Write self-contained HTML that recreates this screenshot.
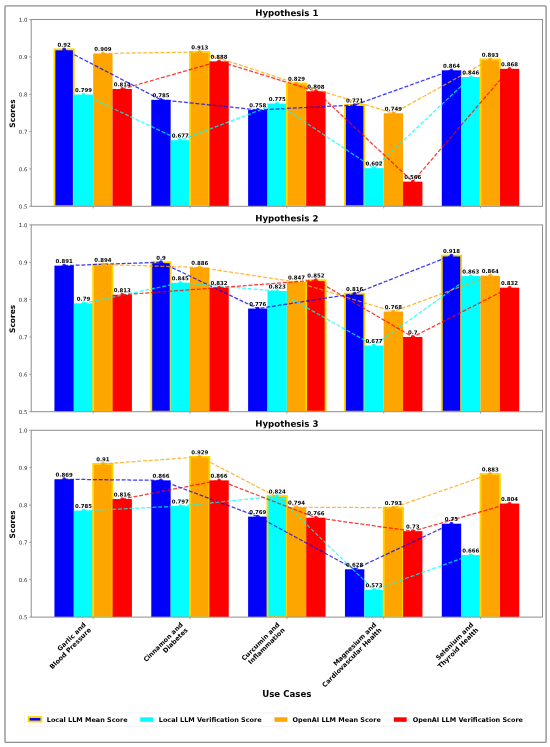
<!DOCTYPE html>
<html lang="en"><head><meta charset="utf-8"><title>Hypothesis scores</title>
<style>html,body{margin:0;padding:0;background:#fff}body{width:550px;height:747px;overflow:hidden}svg{display:block;filter:blur(0.4px)}</style>
</head><body>
<svg width="550" height="747" viewBox="0 0 550 747" font-family="'DejaVu Sans', 'Liberation Sans', sans-serif">
<rect x="0" y="0" width="550" height="747" fill="#ffffff"/>
<rect x="5.0" y="5.8" width="541.1" height="736.6" rx="1" fill="none" stroke="#8e8e8e" stroke-width="1.35"/>
<clipPath id="c0"><rect x="31.2" y="19.5" width="511.3" height="186.8"/></clipPath>
<g clip-path="url(#c0)">
<rect x="54.44" y="49.39" width="19.37" height="156.91" fill="#0000ff" stroke="#ffd700" stroke-width="1.85"/>
<rect x="151.28" y="99.82" width="19.37" height="106.48" fill="#0000ff"/>
<rect x="248.12" y="109.91" width="19.37" height="96.39" fill="#0000ff"/>
<rect x="344.95" y="105.05" width="19.37" height="101.25" fill="#0000ff" stroke="#ffd700" stroke-width="1.85"/>
<rect x="441.79" y="70.31" width="19.37" height="135.99" fill="#0000ff"/>
<rect x="73.81" y="94.59" width="19.37" height="111.71" fill="#00ffff"/>
<rect x="170.65" y="140.17" width="19.37" height="66.13" fill="#00ffff"/>
<rect x="267.48" y="103.56" width="19.37" height="102.74" fill="#00ffff"/>
<rect x="364.32" y="168.19" width="19.37" height="38.11" fill="#00ffff"/>
<rect x="461.16" y="77.03" width="19.37" height="129.27" fill="#00ffff"/>
<rect x="93.18" y="53.5" width="19.37" height="152.8" fill="#ffa500"/>
<rect x="190.01" y="52" width="19.37" height="154.3" fill="#ffa500" stroke="#ffd700" stroke-width="1.85"/>
<rect x="286.85" y="83.39" width="19.37" height="122.91" fill="#ffa500" stroke="#ffd700" stroke-width="1.85"/>
<rect x="383.69" y="113.27" width="19.37" height="93.03" fill="#ffa500"/>
<rect x="480.52" y="59.48" width="19.37" height="146.82" fill="#ffa500" stroke="#ffd700" stroke-width="1.85"/>
<rect x="112.54" y="88.99" width="19.37" height="117.31" fill="#ff0000"/>
<rect x="209.38" y="61.34" width="19.37" height="144.96" fill="#ff0000"/>
<rect x="306.22" y="91.23" width="19.37" height="115.07" fill="#ff0000"/>
<rect x="403.05" y="181.64" width="19.37" height="24.66" fill="#ff0000"/>
<rect x="499.89" y="68.82" width="19.37" height="137.48" fill="#ff0000"/>
<polyline points="64.12,49.39 160.96,99.82 257.8,109.91 354.64,105.05 451.47,70.31" fill="none" stroke="#0000ff" stroke-width="1.25" stroke-dasharray="4 1.75" opacity="0.78"/>
<circle cx="64.12" cy="49.39" r="1.9" fill="#0000ff" opacity="0.85"/>
<circle cx="160.96" cy="99.82" r="1.9" fill="#0000ff" opacity="0.85"/>
<circle cx="257.8" cy="109.91" r="1.9" fill="#0000ff" opacity="0.85"/>
<circle cx="354.64" cy="105.05" r="1.9" fill="#0000ff" opacity="0.85"/>
<circle cx="451.47" cy="70.31" r="1.9" fill="#0000ff" opacity="0.85"/>
<polyline points="83.49,94.59 180.33,140.17 277.17,103.56 374,168.19 470.84,77.03" fill="none" stroke="#00ffff" stroke-width="1.25" stroke-dasharray="4 1.75" opacity="0.78"/>
<circle cx="83.49" cy="94.59" r="1.9" fill="#00ffff" opacity="0.85"/>
<circle cx="180.33" cy="140.17" r="1.9" fill="#00ffff" opacity="0.85"/>
<circle cx="277.17" cy="103.56" r="1.9" fill="#00ffff" opacity="0.85"/>
<circle cx="374" cy="168.19" r="1.9" fill="#00ffff" opacity="0.85"/>
<circle cx="470.84" cy="77.03" r="1.9" fill="#00ffff" opacity="0.85"/>
<polyline points="102.86,53.5 199.7,52 296.53,83.39 393.37,113.27 490.21,59.48" fill="none" stroke="#ffa500" stroke-width="1.25" stroke-dasharray="4 1.75" opacity="0.78"/>
<circle cx="102.86" cy="53.5" r="1.9" fill="#ffa500" opacity="0.85"/>
<circle cx="199.7" cy="52" r="1.9" fill="#ffa500" opacity="0.85"/>
<circle cx="296.53" cy="83.39" r="1.9" fill="#ffa500" opacity="0.85"/>
<circle cx="393.37" cy="113.27" r="1.9" fill="#ffa500" opacity="0.85"/>
<circle cx="490.21" cy="59.48" r="1.9" fill="#ffa500" opacity="0.85"/>
<polyline points="122.23,88.99 219.06,61.34 315.9,91.23 412.74,181.64 509.58,68.82" fill="none" stroke="#ff0000" stroke-width="1.25" stroke-dasharray="4 1.75" opacity="0.78"/>
<circle cx="122.23" cy="88.99" r="1.9" fill="#ff0000" opacity="0.85"/>
<circle cx="219.06" cy="61.34" r="1.9" fill="#ff0000" opacity="0.85"/>
<circle cx="315.9" cy="91.23" r="1.9" fill="#ff0000" opacity="0.85"/>
<circle cx="412.74" cy="181.64" r="1.9" fill="#ff0000" opacity="0.85"/>
<circle cx="509.58" cy="68.82" r="1.9" fill="#ff0000" opacity="0.85"/>
</g><g>
<rect x="31.2" y="19.5" width="511.3" height="186.8" fill="none" stroke="#929292" stroke-width="1.05"/>
<line x1="29.2" y1="206.3" x2="31.2" y2="206.3" stroke="#929292" stroke-width="0.8"/>
<text transform="translate(27.4,208.55) rotate(0.3)" font-size="5.4" text-anchor="end" fill="#262626">0.5</text>
<line x1="29.2" y1="168.94" x2="31.2" y2="168.94" stroke="#929292" stroke-width="0.8"/>
<text transform="translate(27.4,171.19) rotate(0.3)" font-size="5.4" text-anchor="end" fill="#262626">0.6</text>
<line x1="29.2" y1="131.58" x2="31.2" y2="131.58" stroke="#929292" stroke-width="0.8"/>
<text transform="translate(27.4,133.83) rotate(0.3)" font-size="5.4" text-anchor="end" fill="#262626">0.7</text>
<line x1="29.2" y1="94.22" x2="31.2" y2="94.22" stroke="#929292" stroke-width="0.8"/>
<text transform="translate(27.4,96.47) rotate(0.3)" font-size="5.4" text-anchor="end" fill="#262626">0.8</text>
<line x1="29.2" y1="56.86" x2="31.2" y2="56.86" stroke="#929292" stroke-width="0.8"/>
<text transform="translate(27.4,59.11) rotate(0.3)" font-size="5.4" text-anchor="end" fill="#262626">0.9</text>
<line x1="29.2" y1="19.5" x2="31.2" y2="19.5" stroke="#929292" stroke-width="0.8"/>
<text transform="translate(27.4,21.75) rotate(0.3)" font-size="5.4" text-anchor="end" fill="#262626">1.0</text>
<line x1="93.18" y1="206.3" x2="93.18" y2="208.3" stroke="#929292" stroke-width="0.8"/>
<line x1="190.01" y1="206.3" x2="190.01" y2="208.3" stroke="#929292" stroke-width="0.8"/>
<line x1="286.85" y1="206.3" x2="286.85" y2="208.3" stroke="#929292" stroke-width="0.8"/>
<line x1="383.69" y1="206.3" x2="383.69" y2="208.3" stroke="#929292" stroke-width="0.8"/>
<line x1="480.52" y1="206.3" x2="480.52" y2="208.3" stroke="#929292" stroke-width="0.8"/>
<text transform="translate(64.12,46.79) rotate(0.3)" font-size="5.4" font-weight="bold" text-anchor="middle" fill="#000">0.92</text>
<text transform="translate(83.49,91.99) rotate(0.3)" font-size="5.4" font-weight="bold" text-anchor="middle" fill="#000">0.799</text>
<text transform="translate(102.86,50.9) rotate(0.3)" font-size="5.4" font-weight="bold" text-anchor="middle" fill="#000">0.909</text>
<text transform="translate(122.23,86.39) rotate(0.3)" font-size="5.4" font-weight="bold" text-anchor="middle" fill="#000">0.814</text>
<text transform="translate(160.96,97.22) rotate(0.3)" font-size="5.4" font-weight="bold" text-anchor="middle" fill="#000">0.785</text>
<text transform="translate(180.33,137.57) rotate(0.3)" font-size="5.4" font-weight="bold" text-anchor="middle" fill="#000">0.677</text>
<text transform="translate(199.7,49.4) rotate(0.3)" font-size="5.4" font-weight="bold" text-anchor="middle" fill="#000">0.913</text>
<text transform="translate(219.06,58.74) rotate(0.3)" font-size="5.4" font-weight="bold" text-anchor="middle" fill="#000">0.888</text>
<text transform="translate(257.8,107.31) rotate(0.3)" font-size="5.4" font-weight="bold" text-anchor="middle" fill="#000">0.758</text>
<text transform="translate(277.17,100.96) rotate(0.3)" font-size="5.4" font-weight="bold" text-anchor="middle" fill="#000">0.775</text>
<text transform="translate(296.53,80.79) rotate(0.3)" font-size="5.4" font-weight="bold" text-anchor="middle" fill="#000">0.829</text>
<text transform="translate(315.9,88.63) rotate(0.3)" font-size="5.4" font-weight="bold" text-anchor="middle" fill="#000">0.808</text>
<text transform="translate(354.64,102.45) rotate(0.3)" font-size="5.4" font-weight="bold" text-anchor="middle" fill="#000">0.771</text>
<text transform="translate(374,165.59) rotate(0.3)" font-size="5.4" font-weight="bold" text-anchor="middle" fill="#000">0.602</text>
<text transform="translate(393.37,110.67) rotate(0.3)" font-size="5.4" font-weight="bold" text-anchor="middle" fill="#000">0.749</text>
<text transform="translate(412.74,179.04) rotate(0.3)" font-size="5.4" font-weight="bold" text-anchor="middle" fill="#000">0.566</text>
<text transform="translate(451.47,67.71) rotate(0.3)" font-size="5.4" font-weight="bold" text-anchor="middle" fill="#000">0.864</text>
<text transform="translate(470.84,74.43) rotate(0.3)" font-size="5.4" font-weight="bold" text-anchor="middle" fill="#000">0.846</text>
<text transform="translate(490.21,56.88) rotate(0.3)" font-size="5.4" font-weight="bold" text-anchor="middle" fill="#000">0.893</text>
<text transform="translate(509.58,66.22) rotate(0.3)" font-size="5.4" font-weight="bold" text-anchor="middle" fill="#000">0.868</text>
<text transform="translate(286.85,15.9) rotate(0.2)" font-size="8.62" font-weight="bold" text-anchor="middle" fill="#000">Hypothesis 1</text>
<text transform="translate(15.3,113.5) rotate(-90)" font-size="7.5" font-weight="bold" text-anchor="middle" fill="#000">Scores</text>
</g>
<clipPath id="c1"><rect x="31.2" y="224.9" width="511.3" height="186.8"/></clipPath>
<g clip-path="url(#c1)">
<rect x="54.44" y="265.62" width="19.37" height="146.08" fill="#0000ff"/>
<rect x="151.28" y="262.26" width="19.37" height="149.44" fill="#0000ff" stroke="#ffd700" stroke-width="1.85"/>
<rect x="248.12" y="308.59" width="19.37" height="103.11" fill="#0000ff"/>
<rect x="344.95" y="293.64" width="19.37" height="118.06" fill="#0000ff" stroke="#ffd700" stroke-width="1.85"/>
<rect x="441.79" y="255.54" width="19.37" height="156.16" fill="#0000ff" stroke="#ffd700" stroke-width="1.85"/>
<rect x="73.81" y="303.36" width="19.37" height="108.34" fill="#00ffff"/>
<rect x="170.65" y="282.81" width="19.37" height="128.89" fill="#00ffff"/>
<rect x="267.48" y="291.03" width="19.37" height="120.67" fill="#00ffff"/>
<rect x="364.32" y="345.57" width="19.37" height="66.13" fill="#00ffff"/>
<rect x="461.16" y="276.08" width="19.37" height="135.62" fill="#00ffff"/>
<rect x="93.18" y="264.5" width="19.37" height="147.2" fill="#ffa500" stroke="#ffd700" stroke-width="1.85"/>
<rect x="190.01" y="267.49" width="19.37" height="144.21" fill="#ffa500"/>
<rect x="286.85" y="282.06" width="19.37" height="129.64" fill="#ffa500"/>
<rect x="383.69" y="311.58" width="19.37" height="100.12" fill="#ffa500"/>
<rect x="480.52" y="275.71" width="19.37" height="135.99" fill="#ffa500"/>
<rect x="112.54" y="294.76" width="19.37" height="116.94" fill="#ff0000"/>
<rect x="209.38" y="287.66" width="19.37" height="124.04" fill="#ff0000"/>
<rect x="306.22" y="280.19" width="19.37" height="131.51" fill="#ff0000" stroke="#ffd700" stroke-width="1.85"/>
<rect x="403.05" y="336.98" width="19.37" height="74.72" fill="#ff0000"/>
<rect x="499.89" y="287.66" width="19.37" height="124.04" fill="#ff0000"/>
<polyline points="64.12,265.62 160.96,262.26 257.8,308.59 354.64,293.64 451.47,255.54" fill="none" stroke="#0000ff" stroke-width="1.25" stroke-dasharray="4 1.75" opacity="0.78"/>
<circle cx="64.12" cy="265.62" r="1.9" fill="#0000ff" opacity="0.85"/>
<circle cx="160.96" cy="262.26" r="1.9" fill="#0000ff" opacity="0.85"/>
<circle cx="257.8" cy="308.59" r="1.9" fill="#0000ff" opacity="0.85"/>
<circle cx="354.64" cy="293.64" r="1.9" fill="#0000ff" opacity="0.85"/>
<circle cx="451.47" cy="255.54" r="1.9" fill="#0000ff" opacity="0.85"/>
<polyline points="83.49,303.36 180.33,282.81 277.17,291.03 374,345.57 470.84,276.08" fill="none" stroke="#00ffff" stroke-width="1.25" stroke-dasharray="4 1.75" opacity="0.78"/>
<circle cx="83.49" cy="303.36" r="1.9" fill="#00ffff" opacity="0.85"/>
<circle cx="180.33" cy="282.81" r="1.9" fill="#00ffff" opacity="0.85"/>
<circle cx="277.17" cy="291.03" r="1.9" fill="#00ffff" opacity="0.85"/>
<circle cx="374" cy="345.57" r="1.9" fill="#00ffff" opacity="0.85"/>
<circle cx="470.84" cy="276.08" r="1.9" fill="#00ffff" opacity="0.85"/>
<polyline points="102.86,264.5 199.7,267.49 296.53,282.06 393.37,311.58 490.21,275.71" fill="none" stroke="#ffa500" stroke-width="1.25" stroke-dasharray="4 1.75" opacity="0.78"/>
<circle cx="102.86" cy="264.5" r="1.9" fill="#ffa500" opacity="0.85"/>
<circle cx="199.7" cy="267.49" r="1.9" fill="#ffa500" opacity="0.85"/>
<circle cx="296.53" cy="282.06" r="1.9" fill="#ffa500" opacity="0.85"/>
<circle cx="393.37" cy="311.58" r="1.9" fill="#ffa500" opacity="0.85"/>
<circle cx="490.21" cy="275.71" r="1.9" fill="#ffa500" opacity="0.85"/>
<polyline points="122.23,294.76 219.06,287.66 315.9,280.19 412.74,336.98 509.58,287.66" fill="none" stroke="#ff0000" stroke-width="1.25" stroke-dasharray="4 1.75" opacity="0.78"/>
<circle cx="122.23" cy="294.76" r="1.9" fill="#ff0000" opacity="0.85"/>
<circle cx="219.06" cy="287.66" r="1.9" fill="#ff0000" opacity="0.85"/>
<circle cx="315.9" cy="280.19" r="1.9" fill="#ff0000" opacity="0.85"/>
<circle cx="412.74" cy="336.98" r="1.9" fill="#ff0000" opacity="0.85"/>
<circle cx="509.58" cy="287.66" r="1.9" fill="#ff0000" opacity="0.85"/>
</g><g>
<rect x="31.2" y="224.9" width="511.3" height="186.8" fill="none" stroke="#929292" stroke-width="1.05"/>
<line x1="29.2" y1="411.7" x2="31.2" y2="411.7" stroke="#929292" stroke-width="0.8"/>
<text transform="translate(27.4,413.95) rotate(0.3)" font-size="5.4" text-anchor="end" fill="#262626">0.5</text>
<line x1="29.2" y1="374.34" x2="31.2" y2="374.34" stroke="#929292" stroke-width="0.8"/>
<text transform="translate(27.4,376.59) rotate(0.3)" font-size="5.4" text-anchor="end" fill="#262626">0.6</text>
<line x1="29.2" y1="336.98" x2="31.2" y2="336.98" stroke="#929292" stroke-width="0.8"/>
<text transform="translate(27.4,339.23) rotate(0.3)" font-size="5.4" text-anchor="end" fill="#262626">0.7</text>
<line x1="29.2" y1="299.62" x2="31.2" y2="299.62" stroke="#929292" stroke-width="0.8"/>
<text transform="translate(27.4,301.87) rotate(0.3)" font-size="5.4" text-anchor="end" fill="#262626">0.8</text>
<line x1="29.2" y1="262.26" x2="31.2" y2="262.26" stroke="#929292" stroke-width="0.8"/>
<text transform="translate(27.4,264.51) rotate(0.3)" font-size="5.4" text-anchor="end" fill="#262626">0.9</text>
<line x1="29.2" y1="224.9" x2="31.2" y2="224.9" stroke="#929292" stroke-width="0.8"/>
<text transform="translate(27.4,227.15) rotate(0.3)" font-size="5.4" text-anchor="end" fill="#262626">1.0</text>
<line x1="93.18" y1="411.7" x2="93.18" y2="413.7" stroke="#929292" stroke-width="0.8"/>
<line x1="190.01" y1="411.7" x2="190.01" y2="413.7" stroke="#929292" stroke-width="0.8"/>
<line x1="286.85" y1="411.7" x2="286.85" y2="413.7" stroke="#929292" stroke-width="0.8"/>
<line x1="383.69" y1="411.7" x2="383.69" y2="413.7" stroke="#929292" stroke-width="0.8"/>
<line x1="480.52" y1="411.7" x2="480.52" y2="413.7" stroke="#929292" stroke-width="0.8"/>
<text transform="translate(64.12,263.02) rotate(0.3)" font-size="5.4" font-weight="bold" text-anchor="middle" fill="#000">0.891</text>
<text transform="translate(83.49,300.76) rotate(0.3)" font-size="5.4" font-weight="bold" text-anchor="middle" fill="#000">0.79</text>
<text transform="translate(102.86,261.9) rotate(0.3)" font-size="5.4" font-weight="bold" text-anchor="middle" fill="#000">0.894</text>
<text transform="translate(122.23,292.16) rotate(0.3)" font-size="5.4" font-weight="bold" text-anchor="middle" fill="#000">0.813</text>
<text transform="translate(160.96,259.66) rotate(0.3)" font-size="5.4" font-weight="bold" text-anchor="middle" fill="#000">0.9</text>
<text transform="translate(180.33,280.21) rotate(0.3)" font-size="5.4" font-weight="bold" text-anchor="middle" fill="#000">0.845</text>
<text transform="translate(199.7,264.89) rotate(0.3)" font-size="5.4" font-weight="bold" text-anchor="middle" fill="#000">0.886</text>
<text transform="translate(219.06,285.06) rotate(0.3)" font-size="5.4" font-weight="bold" text-anchor="middle" fill="#000">0.832</text>
<text transform="translate(257.8,305.99) rotate(0.3)" font-size="5.4" font-weight="bold" text-anchor="middle" fill="#000">0.776</text>
<text transform="translate(277.17,288.43) rotate(0.3)" font-size="5.4" font-weight="bold" text-anchor="middle" fill="#000">0.823</text>
<text transform="translate(296.53,279.46) rotate(0.3)" font-size="5.4" font-weight="bold" text-anchor="middle" fill="#000">0.847</text>
<text transform="translate(315.9,277.59) rotate(0.3)" font-size="5.4" font-weight="bold" text-anchor="middle" fill="#000">0.852</text>
<text transform="translate(354.64,291.04) rotate(0.3)" font-size="5.4" font-weight="bold" text-anchor="middle" fill="#000">0.816</text>
<text transform="translate(374,342.97) rotate(0.3)" font-size="5.4" font-weight="bold" text-anchor="middle" fill="#000">0.677</text>
<text transform="translate(393.37,308.98) rotate(0.3)" font-size="5.4" font-weight="bold" text-anchor="middle" fill="#000">0.768</text>
<text transform="translate(412.74,334.38) rotate(0.3)" font-size="5.4" font-weight="bold" text-anchor="middle" fill="#000">0.7</text>
<text transform="translate(451.47,252.94) rotate(0.3)" font-size="5.4" font-weight="bold" text-anchor="middle" fill="#000">0.918</text>
<text transform="translate(470.84,273.48) rotate(0.3)" font-size="5.4" font-weight="bold" text-anchor="middle" fill="#000">0.863</text>
<text transform="translate(490.21,273.11) rotate(0.3)" font-size="5.4" font-weight="bold" text-anchor="middle" fill="#000">0.864</text>
<text transform="translate(509.58,285.06) rotate(0.3)" font-size="5.4" font-weight="bold" text-anchor="middle" fill="#000">0.832</text>
<text transform="translate(286.85,221.3) rotate(0.2)" font-size="8.62" font-weight="bold" text-anchor="middle" fill="#000">Hypothesis 2</text>
<text transform="translate(15.3,318.9) rotate(-90)" font-size="7.5" font-weight="bold" text-anchor="middle" fill="#000">Scores</text>
</g>
<clipPath id="c2"><rect x="31.2" y="430.3" width="511.3" height="186.8"/></clipPath>
<g clip-path="url(#c2)">
<rect x="54.44" y="479.24" width="19.37" height="137.86" fill="#0000ff"/>
<rect x="151.28" y="480.36" width="19.37" height="136.74" fill="#0000ff"/>
<rect x="248.12" y="516.6" width="19.37" height="100.5" fill="#0000ff"/>
<rect x="344.95" y="569.28" width="19.37" height="47.82" fill="#0000ff"/>
<rect x="441.79" y="523.7" width="19.37" height="93.4" fill="#0000ff"/>
<rect x="73.81" y="510.62" width="19.37" height="106.48" fill="#00ffff"/>
<rect x="170.65" y="506.14" width="19.37" height="110.96" fill="#00ffff"/>
<rect x="267.48" y="496.05" width="19.37" height="121.05" fill="#00ffff" stroke="#ffd700" stroke-width="1.85"/>
<rect x="364.32" y="589.83" width="19.37" height="27.27" fill="#00ffff"/>
<rect x="461.16" y="555.08" width="19.37" height="62.02" fill="#00ffff"/>
<rect x="93.18" y="463.92" width="19.37" height="153.18" fill="#ffa500" stroke="#ffd700" stroke-width="1.85"/>
<rect x="190.01" y="456.83" width="19.37" height="160.27" fill="#ffa500" stroke="#ffd700" stroke-width="1.85"/>
<rect x="286.85" y="507.26" width="19.37" height="109.84" fill="#ffa500"/>
<rect x="383.69" y="507.64" width="19.37" height="109.46" fill="#ffa500" stroke="#ffd700" stroke-width="1.85"/>
<rect x="480.52" y="474.01" width="19.37" height="143.09" fill="#ffa500" stroke="#ffd700" stroke-width="1.85"/>
<rect x="112.54" y="499.04" width="19.37" height="118.06" fill="#ff0000"/>
<rect x="209.38" y="480.36" width="19.37" height="136.74" fill="#ff0000"/>
<rect x="306.22" y="517.72" width="19.37" height="99.38" fill="#ff0000"/>
<rect x="403.05" y="531.17" width="19.37" height="85.93" fill="#ff0000"/>
<rect x="499.89" y="503.53" width="19.37" height="113.57" fill="#ff0000"/>
<polyline points="64.12,479.24 160.96,480.36 257.8,516.6 354.64,569.28 451.47,523.7" fill="none" stroke="#0000ff" stroke-width="1.25" stroke-dasharray="4 1.75" opacity="0.78"/>
<circle cx="64.12" cy="479.24" r="1.9" fill="#0000ff" opacity="0.85"/>
<circle cx="160.96" cy="480.36" r="1.9" fill="#0000ff" opacity="0.85"/>
<circle cx="257.8" cy="516.6" r="1.9" fill="#0000ff" opacity="0.85"/>
<circle cx="354.64" cy="569.28" r="1.9" fill="#0000ff" opacity="0.85"/>
<circle cx="451.47" cy="523.7" r="1.9" fill="#0000ff" opacity="0.85"/>
<polyline points="83.49,510.62 180.33,506.14 277.17,496.05 374,589.83 470.84,555.08" fill="none" stroke="#00ffff" stroke-width="1.25" stroke-dasharray="4 1.75" opacity="0.78"/>
<circle cx="83.49" cy="510.62" r="1.9" fill="#00ffff" opacity="0.85"/>
<circle cx="180.33" cy="506.14" r="1.9" fill="#00ffff" opacity="0.85"/>
<circle cx="277.17" cy="496.05" r="1.9" fill="#00ffff" opacity="0.85"/>
<circle cx="374" cy="589.83" r="1.9" fill="#00ffff" opacity="0.85"/>
<circle cx="470.84" cy="555.08" r="1.9" fill="#00ffff" opacity="0.85"/>
<polyline points="102.86,463.92 199.7,456.83 296.53,507.26 393.37,507.64 490.21,474.01" fill="none" stroke="#ffa500" stroke-width="1.25" stroke-dasharray="4 1.75" opacity="0.78"/>
<circle cx="102.86" cy="463.92" r="1.9" fill="#ffa500" opacity="0.85"/>
<circle cx="199.7" cy="456.83" r="1.9" fill="#ffa500" opacity="0.85"/>
<circle cx="296.53" cy="507.26" r="1.9" fill="#ffa500" opacity="0.85"/>
<circle cx="393.37" cy="507.64" r="1.9" fill="#ffa500" opacity="0.85"/>
<circle cx="490.21" cy="474.01" r="1.9" fill="#ffa500" opacity="0.85"/>
<polyline points="122.23,499.04 219.06,480.36 315.9,517.72 412.74,531.17 509.58,503.53" fill="none" stroke="#ff0000" stroke-width="1.25" stroke-dasharray="4 1.75" opacity="0.78"/>
<circle cx="122.23" cy="499.04" r="1.9" fill="#ff0000" opacity="0.85"/>
<circle cx="219.06" cy="480.36" r="1.9" fill="#ff0000" opacity="0.85"/>
<circle cx="315.9" cy="517.72" r="1.9" fill="#ff0000" opacity="0.85"/>
<circle cx="412.74" cy="531.17" r="1.9" fill="#ff0000" opacity="0.85"/>
<circle cx="509.58" cy="503.53" r="1.9" fill="#ff0000" opacity="0.85"/>
</g><g>
<rect x="31.2" y="430.3" width="511.3" height="186.8" fill="none" stroke="#929292" stroke-width="1.05"/>
<line x1="29.2" y1="617.1" x2="31.2" y2="617.1" stroke="#929292" stroke-width="0.8"/>
<text transform="translate(27.4,619.35) rotate(0.3)" font-size="5.4" text-anchor="end" fill="#262626">0.5</text>
<line x1="29.2" y1="579.74" x2="31.2" y2="579.74" stroke="#929292" stroke-width="0.8"/>
<text transform="translate(27.4,581.99) rotate(0.3)" font-size="5.4" text-anchor="end" fill="#262626">0.6</text>
<line x1="29.2" y1="542.38" x2="31.2" y2="542.38" stroke="#929292" stroke-width="0.8"/>
<text transform="translate(27.4,544.63) rotate(0.3)" font-size="5.4" text-anchor="end" fill="#262626">0.7</text>
<line x1="29.2" y1="505.02" x2="31.2" y2="505.02" stroke="#929292" stroke-width="0.8"/>
<text transform="translate(27.4,507.27) rotate(0.3)" font-size="5.4" text-anchor="end" fill="#262626">0.8</text>
<line x1="29.2" y1="467.66" x2="31.2" y2="467.66" stroke="#929292" stroke-width="0.8"/>
<text transform="translate(27.4,469.91) rotate(0.3)" font-size="5.4" text-anchor="end" fill="#262626">0.9</text>
<line x1="29.2" y1="430.3" x2="31.2" y2="430.3" stroke="#929292" stroke-width="0.8"/>
<text transform="translate(27.4,432.55) rotate(0.3)" font-size="5.4" text-anchor="end" fill="#262626">1.0</text>
<line x1="93.18" y1="617.1" x2="93.18" y2="619.1" stroke="#929292" stroke-width="0.8"/>
<line x1="190.01" y1="617.1" x2="190.01" y2="619.1" stroke="#929292" stroke-width="0.8"/>
<line x1="286.85" y1="617.1" x2="286.85" y2="619.1" stroke="#929292" stroke-width="0.8"/>
<line x1="383.69" y1="617.1" x2="383.69" y2="619.1" stroke="#929292" stroke-width="0.8"/>
<line x1="480.52" y1="617.1" x2="480.52" y2="619.1" stroke="#929292" stroke-width="0.8"/>
<text transform="translate(64.12,476.64) rotate(0.3)" font-size="5.4" font-weight="bold" text-anchor="middle" fill="#000">0.869</text>
<text transform="translate(83.49,508.02) rotate(0.3)" font-size="5.4" font-weight="bold" text-anchor="middle" fill="#000">0.785</text>
<text transform="translate(102.86,461.32) rotate(0.3)" font-size="5.4" font-weight="bold" text-anchor="middle" fill="#000">0.91</text>
<text transform="translate(122.23,496.44) rotate(0.3)" font-size="5.4" font-weight="bold" text-anchor="middle" fill="#000">0.816</text>
<text transform="translate(160.96,477.76) rotate(0.3)" font-size="5.4" font-weight="bold" text-anchor="middle" fill="#000">0.866</text>
<text transform="translate(180.33,503.54) rotate(0.3)" font-size="5.4" font-weight="bold" text-anchor="middle" fill="#000">0.797</text>
<text transform="translate(199.7,454.23) rotate(0.3)" font-size="5.4" font-weight="bold" text-anchor="middle" fill="#000">0.929</text>
<text transform="translate(219.06,477.76) rotate(0.3)" font-size="5.4" font-weight="bold" text-anchor="middle" fill="#000">0.866</text>
<text transform="translate(257.8,514) rotate(0.3)" font-size="5.4" font-weight="bold" text-anchor="middle" fill="#000">0.769</text>
<text transform="translate(277.17,493.45) rotate(0.3)" font-size="5.4" font-weight="bold" text-anchor="middle" fill="#000">0.824</text>
<text transform="translate(296.53,504.66) rotate(0.3)" font-size="5.4" font-weight="bold" text-anchor="middle" fill="#000">0.794</text>
<text transform="translate(315.9,515.12) rotate(0.3)" font-size="5.4" font-weight="bold" text-anchor="middle" fill="#000">0.766</text>
<text transform="translate(354.64,566.68) rotate(0.3)" font-size="5.4" font-weight="bold" text-anchor="middle" fill="#000">0.628</text>
<text transform="translate(374,587.23) rotate(0.3)" font-size="5.4" font-weight="bold" text-anchor="middle" fill="#000">0.573</text>
<text transform="translate(393.37,505.04) rotate(0.3)" font-size="5.4" font-weight="bold" text-anchor="middle" fill="#000">0.793</text>
<text transform="translate(412.74,528.57) rotate(0.3)" font-size="5.4" font-weight="bold" text-anchor="middle" fill="#000">0.73</text>
<text transform="translate(451.47,521.1) rotate(0.3)" font-size="5.4" font-weight="bold" text-anchor="middle" fill="#000">0.75</text>
<text transform="translate(470.84,552.48) rotate(0.3)" font-size="5.4" font-weight="bold" text-anchor="middle" fill="#000">0.666</text>
<text transform="translate(490.21,471.41) rotate(0.3)" font-size="5.4" font-weight="bold" text-anchor="middle" fill="#000">0.883</text>
<text transform="translate(509.58,500.93) rotate(0.3)" font-size="5.4" font-weight="bold" text-anchor="middle" fill="#000">0.804</text>
<text transform="translate(286.85,426.7) rotate(0.2)" font-size="8.62" font-weight="bold" text-anchor="middle" fill="#000">Hypothesis 3</text>
<text transform="translate(15.3,524.3) rotate(-90)" font-size="7.5" font-weight="bold" text-anchor="middle" fill="#000">Scores</text>
</g>
<text transform="translate(86.37,625.29) rotate(-45)" font-size="6.5" font-weight="bold" text-anchor="end" fill="#000">Garlic and</text>
<text transform="translate(91.52,630.44) rotate(-45)" font-size="6.5" font-weight="bold" text-anchor="end" fill="#000">Blood Pressure</text>
<text transform="translate(183.21,625.29) rotate(-45)" font-size="6.5" font-weight="bold" text-anchor="end" fill="#000">Cinnamon and</text>
<text transform="translate(188.36,630.44) rotate(-45)" font-size="6.5" font-weight="bold" text-anchor="end" fill="#000">Diabetes</text>
<text transform="translate(280.05,625.29) rotate(-45)" font-size="6.5" font-weight="bold" text-anchor="end" fill="#000">Curcumin and</text>
<text transform="translate(285.19,630.44) rotate(-45)" font-size="6.5" font-weight="bold" text-anchor="end" fill="#000">Inflammation</text>
<text transform="translate(376.88,625.29) rotate(-45)" font-size="6.5" font-weight="bold" text-anchor="end" fill="#000">Magnesium and</text>
<text transform="translate(382.03,630.44) rotate(-45)" font-size="6.5" font-weight="bold" text-anchor="end" fill="#000">Cardiovascular Health</text>
<text transform="translate(473.72,625.29) rotate(-45)" font-size="6.5" font-weight="bold" text-anchor="end" fill="#000">Selenium and</text>
<text transform="translate(478.87,630.44) rotate(-45)" font-size="6.5" font-weight="bold" text-anchor="end" fill="#000">Thyroid Health</text>
<text x="286.85" y="696.9" font-size="8.62" font-weight="bold" text-anchor="middle" fill="#000">Use Cases</text>
<rect x="24.4" y="713" width="501.4" height="13.3" rx="1.2" fill="#fff" stroke="#ececec" stroke-width="0.7"/>
<rect x="28.65" y="717.1" width="12.7" height="4.4" fill="#0000ff" stroke="#ffd700" stroke-width="1.9"/>
<text x="46.8" y="722" font-size="6.47" font-weight="bold" fill="#000">Local LLM Mean Score</text>
<rect x="140.2" y="717.3" width="12.9" height="4.5" fill="#00ffff"/>
<text x="158.8" y="722" font-size="6.47" font-weight="bold" fill="#000">Local LLM Verification Score</text>
<rect x="274.5" y="717.3" width="12.9" height="4.5" fill="#ffa500"/>
<text x="292.6" y="722" font-size="6.47" font-weight="bold" fill="#000">OpenAI LLM Mean Score</text>
<rect x="393.8" y="717.3" width="12.9" height="4.5" fill="#ff0000"/>
<text x="412.7" y="722" font-size="6.47" font-weight="bold" fill="#000">OpenAI LLM Verification Score</text>
</svg>
</body></html>
